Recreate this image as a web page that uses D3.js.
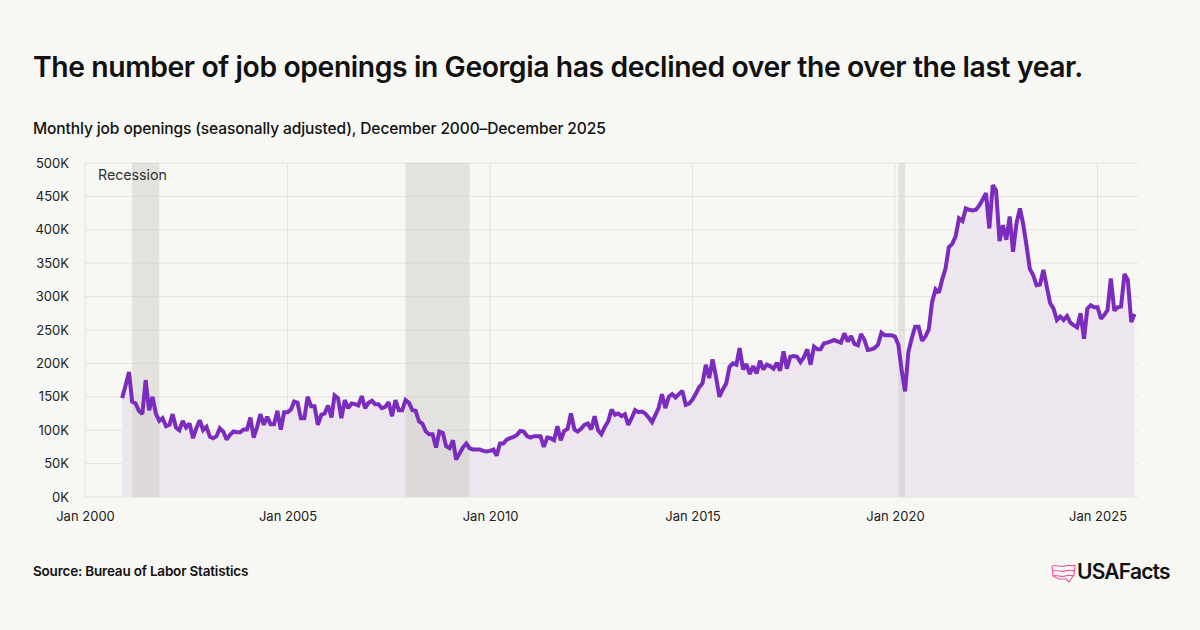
<!DOCTYPE html>
<html>
<head>
<meta charset="utf-8">
<script src="https://cdn.jsdelivr.net/npm/d3@7"></script>
<style>
  html, body { margin: 0; padding: 0; background: #f7f7f3; }
  svg { display: block; font-family: Inter, "Open Sans", sans-serif; }
</style>
</head>
<body>
<svg id="chart" width="1200" height="630"></svg>
<script>
// ---- Data (thousands of job openings, monthly from Dec 2000) ----
const startMonth = "2000-12";
const openings = [
  148,167,187,143,140,129,124,175,130,150,125,114,118,106,108,124,104,100,114,104,
  110,88,103,115,100,105,90,88,91,103,98,86,93,98,97,97,101,101,119,89,
  105,124,108,120,109,109,129,101,127,127,131,143,141,118,118,150,136,136,108,123,
  125,137,119,152,148,118,145,133,140,139,137,151,133,141,144,139,139,133,135,142,
  121,145,130,130,145,141,130,129,113,110,98,94,94,74,98,96,76,73,85,56,
  65,74,80,73,71,71,71,69,68,69,71,62,80,80,86,88,90,93,99,98,
  91,89,91,91,91,75,89,88,85,106,85,99,102,125,101,98,102,108,110,101,
  121,100,94,105,113,131,123,125,121,124,108,118,130,127,128,125,119,112,123,133,
  154,133,150,154,149,154,159,138,140,146,155,164,170,198,178,206,180,150,161,170,
  195,200,198,223,191,199,184,196,185,204,191,198,196,192,201,189,218,192,210,211,
  210,202,209,221,198,225,221,221,230,231,233,235,233,231,245,233,241,229,227,244,
  235,220,221,223,228,246,242,242,242,240,228,190,158,217,238,255,255,234,240,251,
  292,311,306,325,342,374,379,390,417,413,432,430,429,430,437,445,455,402,467,459,
  383,407,385,420,367,410,432,410,377,342,332,317,318,340,315,290,282,265,270,265,
  271,261,257,254,275,237,282,287,284,284,267,272,280,327,279,284,285,334,325,262,
  274
];
const recessions = [
  ["2001-03", "2001-11"],
  ["2007-12", "2009-07"],
  ["2020-02", "2020-04"]
];
const yTicks = [0, 50, 100, 150, 200, 250, 300, 350, 400, 450, 500];
const xTickYears = [2000, 2005, 2010, 2015, 2020, 2025];

const titleText = "The number of job openings in Georgia has declined over the over the last year.";
const subtitleText = "Monthly job openings (seasonally adjusted), December 2000\u2013December 2025";
const sourceText = "Source: Bureau of Labor Statistics";

// ---- Build ----
const parseM = d3.timeParse("%Y-%m");
const t0 = parseM(startMonth);
const data = openings.map((v, i) => ({ date: d3.timeMonth.offset(t0, i), value: v }));

const svg = d3.select("#chart");
const margin = { left: 85, right: 1138, top: 163, bottom: 497 };

const x = d3.scaleTime()
  .domain([new Date(2000, 0, 1), new Date(2026, 0, 1)])
  .range([margin.left, margin.right]);
const y = d3.scaleLinear().domain([0, 500]).range([margin.bottom, margin.top]);

svg.append("rect").attr("width", 1200).attr("height", 630).attr("fill", "#f7f7f3");

function fitWidth(sel, baseSize, target) {
  const w = sel.node().getComputedTextLength();
  if (w > 0) sel.attr("font-size", baseSize * target / w);
}

// Title
const title = svg.append("text")
  .attr("x", 33).attr("y", 77)
  .attr("font-size", 28).attr("font-weight", 600)
  .attr("fill", "#111")
  .attr("letter-spacing", "-0.4")
  .text(titleText);
fitWidth(title, 28, 1050);

const subtitle = svg.append("text")
  .attr("x", 33).attr("y", 134)
  .attr("font-size", 15).attr("font-weight", 500)
  .attr("fill", "#111")
  .attr("letter-spacing", "-0.1")
  .text(subtitleText);
fitWidth(subtitle, 15, 573);

// Gridlines
svg.append("g").selectAll("line").data(yTicks).join("line")
  .attr("x1", margin.left).attr("x2", margin.right)
  .attr("y1", d => y(d)).attr("y2", d => y(d))
  .attr("stroke", "#e4e2e2").attr("stroke-width", 1);

svg.append("g").selectAll("line").data(xTickYears).join("line")
  .attr("x1", d => x(new Date(d, 0, 1))).attr("x2", d => x(new Date(d, 0, 1)))
  .attr("y1", margin.top).attr("y2", margin.bottom)
  .attr("stroke", "#e4e2e2").attr("stroke-width", 1);

// Area
const area = d3.area()
  .x(d => x(d.date)).y0(y(0)).y1(d => y(d.value));
svg.append("path").datum(data)
  .attr("d", area)
  .attr("fill", "#ede6ef");

// Recession bands
svg.append("g").selectAll("rect").data(recessions).join("rect")
  .attr("x", d => x(parseM(d[0])))
  .attr("width", d => x(parseM(d[1])) - x(parseM(d[0])))
  .attr("y", margin.top).attr("height", margin.bottom - margin.top)
  .attr("fill", "#c9c9c3").attr("fill-opacity", 0.45);

const recLabel = svg.append("text")
  .attr("x", 98).attr("y", 180)
  .attr("font-size", 13).attr("fill", "#333")
  .text("Recession");
fitWidth(recLabel, 13, 69);

// Line
const line = d3.line().x(d => x(d.date)).y(d => y(d.value));
svg.append("path").datum(data)
  .attr("d", line)
  .attr("fill", "none")
  .attr("stroke", "#7b2cbf")
  .attr("stroke-width", 4)
  .attr("stroke-linejoin", "miter")
  .attr("stroke-miterlimit", 2);

// Axes
const yAxis = d3.axisLeft(y).tickValues(yTicks).tickSize(0).tickPadding(0)
  .tickFormat(d => d + "K");
const gy = svg.append("g").attr("transform", "translate(69,0)").call(yAxis);
gy.select(".domain").remove();
gy.selectAll("text").attr("font-size", 13).attr("fill", "#222")
  .attr("font-family", "Inter, sans-serif");

const xAxis = d3.axisBottom(x)
  .tickValues(xTickYears.map(yr => new Date(yr, 0, 1)))
  .tickSize(0).tickPadding(0)
  .tickFormat(d3.timeFormat("Jan %Y"));
const gx = svg.append("g").attr("transform", "translate(0,512)").call(xAxis);
gx.select(".domain").remove();
gx.selectAll("text").attr("font-size", 13).attr("fill", "#222")
  .attr("font-family", "Inter, sans-serif");

// Source
const source = svg.append("text")
  .attr("x", 33).attr("y", 576)
  .attr("font-size", 13).attr("font-weight", 600)
  .attr("fill", "#111").attr("letter-spacing", "-0.2")
  .text(sourceText);
fitWidth(source, 13, 215);

// Logo
const logo = svg.append("g").attr("transform", "translate(1051,563)");
logo.append("path")
  .attr("d", "M1,3 C6,1 10,5 14,3 C18,1 20,4 24,2 M1,8 C6,6 10,10 14,8 C18,6 21,9 24,7 M2,13 C6,11 10,15 14,13 C18,11 20,14 23,12 M1,3 L2,13 L8,16 L15,16 L18,19 L20,16 L23,12 L24,2")
  .attr("fill", "none").attr("stroke", "#ef5ba1").attr("stroke-width", 1.2)
  .attr("stroke-linejoin", "round");
svg.append("text")
  .attr("x", 1077).attr("y", 579)
  .attr("font-size", 21).attr("font-weight", 600)
  .attr("fill", "#111").attr("letter-spacing", "-0.8")
  .text("USAFacts");
</script>
</body>
</html>
